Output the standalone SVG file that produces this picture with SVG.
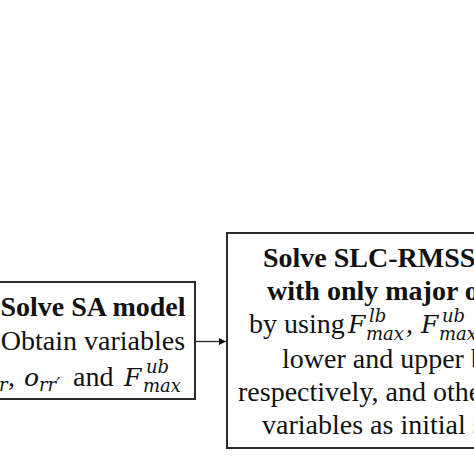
<svg xmlns="http://www.w3.org/2000/svg" width="474" height="474" viewBox="0 0 474 474">
<defs>
<style>
.box{fill:#fff;stroke:#2b2b2b;stroke-width:2}
.t{font-family:"Liberation Serif","Times New Roman",serif;font-size:28px;fill:#111}
.b{font-weight:bold}
.m{font-family:"DejaVu Serif","Liberation Serif",serif;font-style:italic;font-size:25px;fill:#111}
.s{font-family:"DejaVu Serif","Liberation Serif",serif;font-style:italic;font-size:18px;fill:#111}
.conn{stroke:#222;stroke-width:1.3;fill:none}
</style>
<marker id="ah" markerWidth="8" markerHeight="8" refX="7" refY="4" orient="auto" markerUnits="userSpaceOnUse">
<path d="M0,0.5 L7,4 L0,7.5 Z" fill="#111"/>
</marker>
</defs>
<rect width="474" height="474" fill="#fff"/>
<g id="connectors">
<line class="conn" x1="195" y1="341.5" x2="226" y2="341.5" marker-end="url(#ah)"/>
</g>
<g id="node-sa">
<rect class="box" x="-20" y="282" width="215" height="117"/>
<text class="t b" x="93" y="316" text-anchor="middle">Solve SA model</text>
<text class="t" x="93" y="350" text-anchor="middle">Obtain variables</text>
<text class="m" x="-21" y="386">F</text>
<text class="s" x="-1" y="391">r</text>
<text class="t" x="8" y="386">,</text>
<text class="m" x="24" y="386">o</text>
<text class="s" x="39" y="391">rr′</text>
<text class="t" x="73" y="386">and</text>
<text class="m" x="124" y="386">F</text>
<text class="s" x="146" y="373">ub</text>
<text class="s" x="143" y="392">max</text>
</g>
<g id="node-slc">
<rect class="box" x="227" y="233" width="380" height="215"/>
<text class="t b" x="263" y="267">Solve SLC-RMSS</text>
<text class="t b" x="267" y="300">with only major operations</text>
<text class="t" x="249" y="333">by using</text>
<text class="m" x="348" y="333">F</text>
<text class="s" x="369" y="322">lb</text>
<text class="s" x="366" y="340">max</text>
<text class="t" x="406" y="333">,</text>
<text class="m" x="421" y="333">F</text>
<text class="s" x="442" y="322">ub</text>
<text class="s" x="439" y="340">max</text>
<text class="t" x="282" y="368">lower and upper bounds,</text>
<text class="t" x="238" y="401">respectively, and other</text>
<text class="t" x="262" y="434">variables as initial solutions</text>
</g>
</svg>
